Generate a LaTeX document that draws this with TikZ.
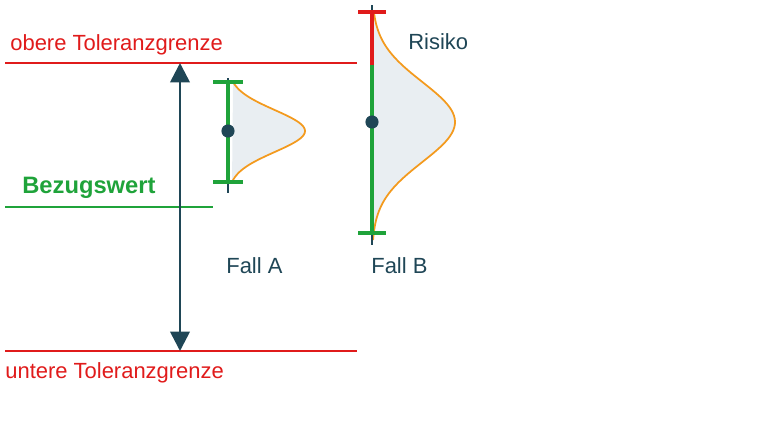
\documentclass[tikz,border=0pt]{standalone}
\usepackage{fontspec}
\setmainfont{Liberation Sans}
\usetikzlibrary{arrows.meta}
\definecolor{tolred}{HTML}{E01B1B}
\definecolor{refgreen}{HTML}{1FA33A}
\definecolor{darkteal}{HTML}{1F4656}
\definecolor{curveor}{HTML}{F39A1E}
\definecolor{curvefill}{HTML}{E9EEF2}
\tikzset{
  lbl/.style={anchor=west, inner sep=0pt, font=\fontsize{12.5}{14}\selectfont},
  dot/.style={circle, fill=darkteal, inner sep=0pt, minimum size=7.5pt},
  limbar/.style={line width=2pt}
}
\begin{document}
\begin{tikzpicture}[x=0.02cm, y=-0.02cm]
  \useasboundingbox (0,0) rectangle (776,436);
  % limits
  \draw[tolred, line width=1pt] (5,63) -- (357,63);
  \draw[tolred, line width=1pt] (5,351) -- (357,351);
  \draw[refgreen, line width=0.8pt] (5,207) -- (213,207);
  \node[lbl, text=tolred] (ot) at (10,45) {obere Toleranzgrenze};
  \node[lbl, text=tolred] (ut) at (5,373) {untere Toleranzgrenze};
  \node[lbl, text=refgreen, font=\fontsize{13.5}{15}\selectfont\bfseries] (bw) at (22,188) {Bezugswert};
  % range arrow
  \coordinate (rt) at (180,63);
  \coordinate (rb) at (180,351);
  \draw[darkteal, line width=1.5pt, {Triangle[length=11pt,width=11pt]}-{Triangle[length=11pt,width=11pt]}] (rt) -- (rb);
  % Fall A
  \fill[curvefill] plot[domain=82:182, samples=60] ({228+77*exp(-((\x-131)/21)^2/2)}, \x);
  \draw[curveor, line width=1pt] plot[domain=82:182, samples=60] ({228+77*exp(-((\x-131)/21)^2/2)}, \x);
  \draw[darkteal, line width=0.8pt] (228,78) -- (228,193);
  \draw[refgreen, limbar] (228,82) -- (228,182);
  \draw[refgreen, limbar] (213,82) -- (243,82);
  \draw[refgreen, limbar] (213,182) -- (243,182);
  \node[dot] (ma) at (228,131) {};
  \node[lbl, text=darkteal] (fa) at (226,266) {Fall A};
  % Fall B
  \fill[curvefill] plot[domain=12:240, samples=80] ({372+83*exp(-((\x-122)/40)^2/2)}, \x);
  \draw[curveor, line width=1pt] plot[domain=12:240, samples=80] ({372+83*exp(-((\x-122)/40)^2/2)}, \x);
  \draw[darkteal, line width=0.8pt] (372,5) -- (372,245);
  \draw[tolred, limbar] (372,12) -- (372,65);
  \draw[refgreen, limbar] (372,65) -- (372,233);
  \draw[tolred, limbar] (358,12) -- (386,12);
  \draw[refgreen, limbar] (358,233) -- (386,233);
  \node[dot] (mb) at (372,122) {};
  \node[lbl, text=darkteal] (fb) at (371,266) {Fall B};
  \node[lbl, text=darkteal] (ri) at (408,42) {Risiko};
\end{tikzpicture}
\end{document}
